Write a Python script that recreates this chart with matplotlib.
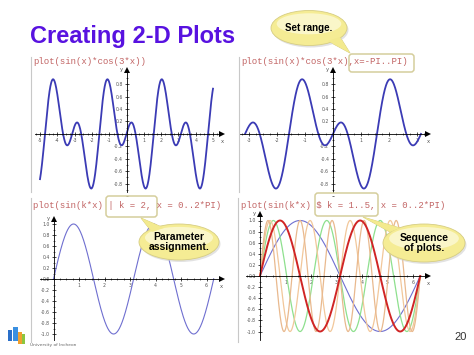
"""
Slide: Creating 2-D Plots (four MuPAD-style function plots with callouts).
"""
import matplotlib.pyplot as plt
import matplotlib.patches as mpatches
import numpy as np

W, H = 474, 355

# ---- data -------------------------------------------------------------
# plotted expressions exactly as written on the slide
top_left_range = (-5.0, 5.0)
top_right_range = (-np.pi, np.pi)
bottom_range = (0.0, 2 * np.pi)
k_single = 2
k_sequence = [1, 2, 3, 4, 5]
k_colors = ["#6f6fd0", "#d02525", "#8ee08e", "#f2c79a", "#e9b98e"]
k_widths = [0.8, 1.4, 0.9, 0.9, 0.9]

top_xticks_left = [-5, -4, -3, -2, -1, 1, 2, 3, 4, 5]
top_xticks_right = [-3, -2, -1, 1, 2, 3]
top_yticks = [-0.8, -0.6, -0.4, -0.2, 0.2, 0.4, 0.6, 0.8]
bottom_xticks = [1, 2, 3, 4, 5, 6]
bottom_yticks = [-1.0, -0.8, -0.6, -0.4, -0.2, 0.0, 0.2, 0.4, 0.6, 0.8, 1.0]

code_lines = [
    "plot(sin(x)*cos(3*x))",
    "plot(sin(x)*cos(3*x),x=-PI..PI)",
    "plot(sin(k*x) | k = 2, x = 0..2*PI)",
    "plot(sin(k*x) $ k = 1..5, x = 0..2*PI)",
]

fig = plt.figure(figsize=(W / 100, H / 100), dpi=100)


def f(x):
    return np.sin(x) * np.cos(3 * x)


def px_axes(left, right, top, bottom):
    """Axes placed with pixel coordinates (y from the top)."""
    return fig.add_axes([left / W, 1 - bottom / H, (right - left) / W, (bottom - top) / H])


def mupad_axes(ax, x0px, xscale, left, right, y0px, yscale, top, bottom,
               xticks, yticks, xarrow, yarrow, yfmt="{:.1f}"):
    ax.set_xlim((left - x0px) / xscale, (right - x0px) / xscale)
    ax.set_ylim((y0px - bottom) / yscale, (y0px - top) / yscale)
    ax.patch.set_alpha(0)
    for s in ("top", "right"):
        ax.spines[s].set_visible(False)
    for s in ("left", "bottom"):
        ax.spines[s].set_position(("data", 0))
        ax.spines[s].set_linewidth(0.6)
    ax.spines["bottom"].set_bounds(ax.get_xlim()[0], xarrow)
    ax.spines["left"].set_bounds(ax.get_ylim()[0], yarrow)
    ax.set_xticks(xticks)
    ax.set_xticklabels([f"{t:g}" for t in xticks])
    ax.set_yticks(yticks)
    ax.set_yticklabels([yfmt.format(t) for t in yticks])
    ax.set_xticks(np.arange(np.ceil(ax.get_xlim()[0] * 4) / 4, xarrow - 0.1, 0.25), minor=True)
    ax.set_yticks(np.arange(-1.0, yarrow - 0.05, 0.1), minor=True)
    ax.tick_params(which="major", direction="inout", length=3.5, width=0.5,
                   labelsize=3.3, labelcolor="#555555", pad=1)
    ax.tick_params(which="minor", direction="inout", length=2, width=0.4)
    ax.plot(xarrow, 0, marker=">", ms=4, color="k", clip_on=False, mew=0)
    ax.plot(0, yarrow, marker="^", ms=4, color="k", clip_on=False, mew=0)
    ax.text(xarrow, -0.09, "x", fontsize=3.8, color="#555555", ha="center", va="top")
    ax.text(-0.02 * (ax.get_xlim()[1] - ax.get_xlim()[0]), yarrow, "y",
            fontsize=3.8, color="#555555", ha="right", va="center")


# top-left: sin(x)*cos(3x), default range
ax1 = px_axes(35, 228, 66, 196)
mupad_axes(ax1, 126.5, 17.3, 35, 228, 136, 64, 66, 196,
           top_xticks_left, top_yticks, 5.52, 1.03)
x = np.linspace(*top_left_range, 600)
ax1.plot(x, f(x), color="#3b3bb5", lw=1.3)

# top-right: same with x=-PI..PI
ax2 = px_axes(240, 432, 66, 196)
mupad_axes(ax2, 333, 28, 240, 432, 136, 64, 66, 196,
           top_xticks_right, top_yticks, 3.39, 1.03)
x = np.linspace(*top_right_range, 600)
ax2.plot(x, f(x), color="#3b3bb5", lw=1.3)

# bottom-left: sin(k*x), k = 2
ax3 = px_axes(40, 228, 214, 340)
mupad_axes(ax3, 53.5, 25.5, 40, 228, 279, 55, 214, 340,
           bottom_xticks, bottom_yticks, 6.6, 1.1)
x = np.linspace(*bottom_range, 600)
ax3.plot(x, np.sin(k_single * x), color="#6f6fd0", lw=0.8)

# bottom-right: sin(k*x), k = 1..5
ax4 = px_axes(246, 432, 210, 340)
mupad_axes(ax4, 260, 25.5, 246, 432, 276, 55.5, 210, 340,
           bottom_xticks, bottom_yticks, 6.59, 1.12)
order = [0, 2, 3, 4, 1]  # red k=2 on top
for i in order:
    ax4.plot(x, np.sin(k_sequence[i] * x), color=k_colors[i], lw=k_widths[i])

# ---- slide decorations (pixel overlay) --------------------------------
bg = fig.add_axes([0, 0, 1, 1])
bg.set_xlim(0, W)
bg.set_ylim(H, 0)
bg.axis("off")
bg.patch.set_alpha(0)
bg.set_zorder(10)

bg.text(30, 37, "Creating 2-D Plots", fontsize=17, fontweight="bold",
        color="#5812e0", family="Liberation Sans", va="center", ha="left")

# notebook brackets
for bx, y0, y1 in [(31, 57, 192), (239, 57, 192), (31, 198, 342), (238, 198, 342)]:
    bg.plot([bx, bx], [y0, y1], color="#c8c8c8", lw=0.8)

# code lines
code_pos = [(33, 62), (241, 62), (33, 206), (241, 205)]
for (cx, cy), txt in zip(code_pos, code_lines):
    bg.text(cx, cy, txt, fontsize=6.5, family="Liberation Mono",
            color="#c26565", va="center", ha="left")

# highlight boxes around parts of the code
for bx0, bx1, by0, by1 in [(349, 414, 54, 72), (106, 157, 196, 217), (315, 378, 193, 216)]:
    bg.add_patch(mpatches.FancyBboxPatch((bx0, by0), bx1 - bx0, by1 - by0,
                                         boxstyle="round,pad=0,rounding_size=3",
                                         facecolor="none", edgecolor="#d5ce9c", lw=1.1))


def callout(cx, cy, w, h, tip, base, lines, fs):
    bg.add_patch(mpatches.Polygon([base[0], tip, base[1]], closed=True,
                                  facecolor="#f3ea8e", edgecolor="#d6cd82", lw=0.6))
    bg.add_patch(mpatches.Ellipse((cx + 1.5, cy + 2), w, h, facecolor="#cfcfcf",
                                  edgecolor="none", alpha=0.6))
    bg.add_patch(mpatches.Ellipse((cx, cy), w, h, facecolor="#f5ec94",
                                  edgecolor="#d6cd82", lw=0.6))
    bg.add_patch(mpatches.Ellipse((cx, cy - h * 0.12), w * 0.85, h * 0.6,
                                  facecolor="#fdfbe0", edgecolor="none", alpha=0.7))
    bg.add_patch(mpatches.Polygon([base[0], tip, base[1]], closed=True,
                                  facecolor="#f3ea8e", edgecolor="none"))
    bg.text(cx, cy, lines, fontsize=fs, fontweight="bold", family="Liberation Sans",
            ha="center", va="center", linespacing=1.0)


callout(309, 28, 76, 35, (350, 53), [(328, 41), (340, 37)], "Set range.", 7)
callout(179, 242, 80, 36, (141, 218), [(152, 232), (164, 228)], "Parameter\nassignment.", 7.5)
callout(424, 243, 82, 38, (363, 217), [(390, 232), (400, 228)], "Sequence\nof plots.", 7.5)

# footer
bg.text(461, 337, "20", fontsize=8, color="#333333", ha="center", va="center",
        family="Liberation Sans")
for lx, ly, lw_, lh, lc in [(8, 330, 4, 11, "#2a6fc9"), (13, 327, 5, 14, "#3a8fe0"),
                            (18, 332, 4, 12, "#f0a030"), (22, 334, 3, 10, "#8cc63f")]:
    bg.add_patch(mpatches.Rectangle((lx, ly), lw_, lh, facecolor=lc, edgecolor="none"))
bg.text(30, 345, "University of Incheon", fontsize=3.2, color="#666666",
        ha="left", va="center")

fig.savefig("out.png", dpi=100)
